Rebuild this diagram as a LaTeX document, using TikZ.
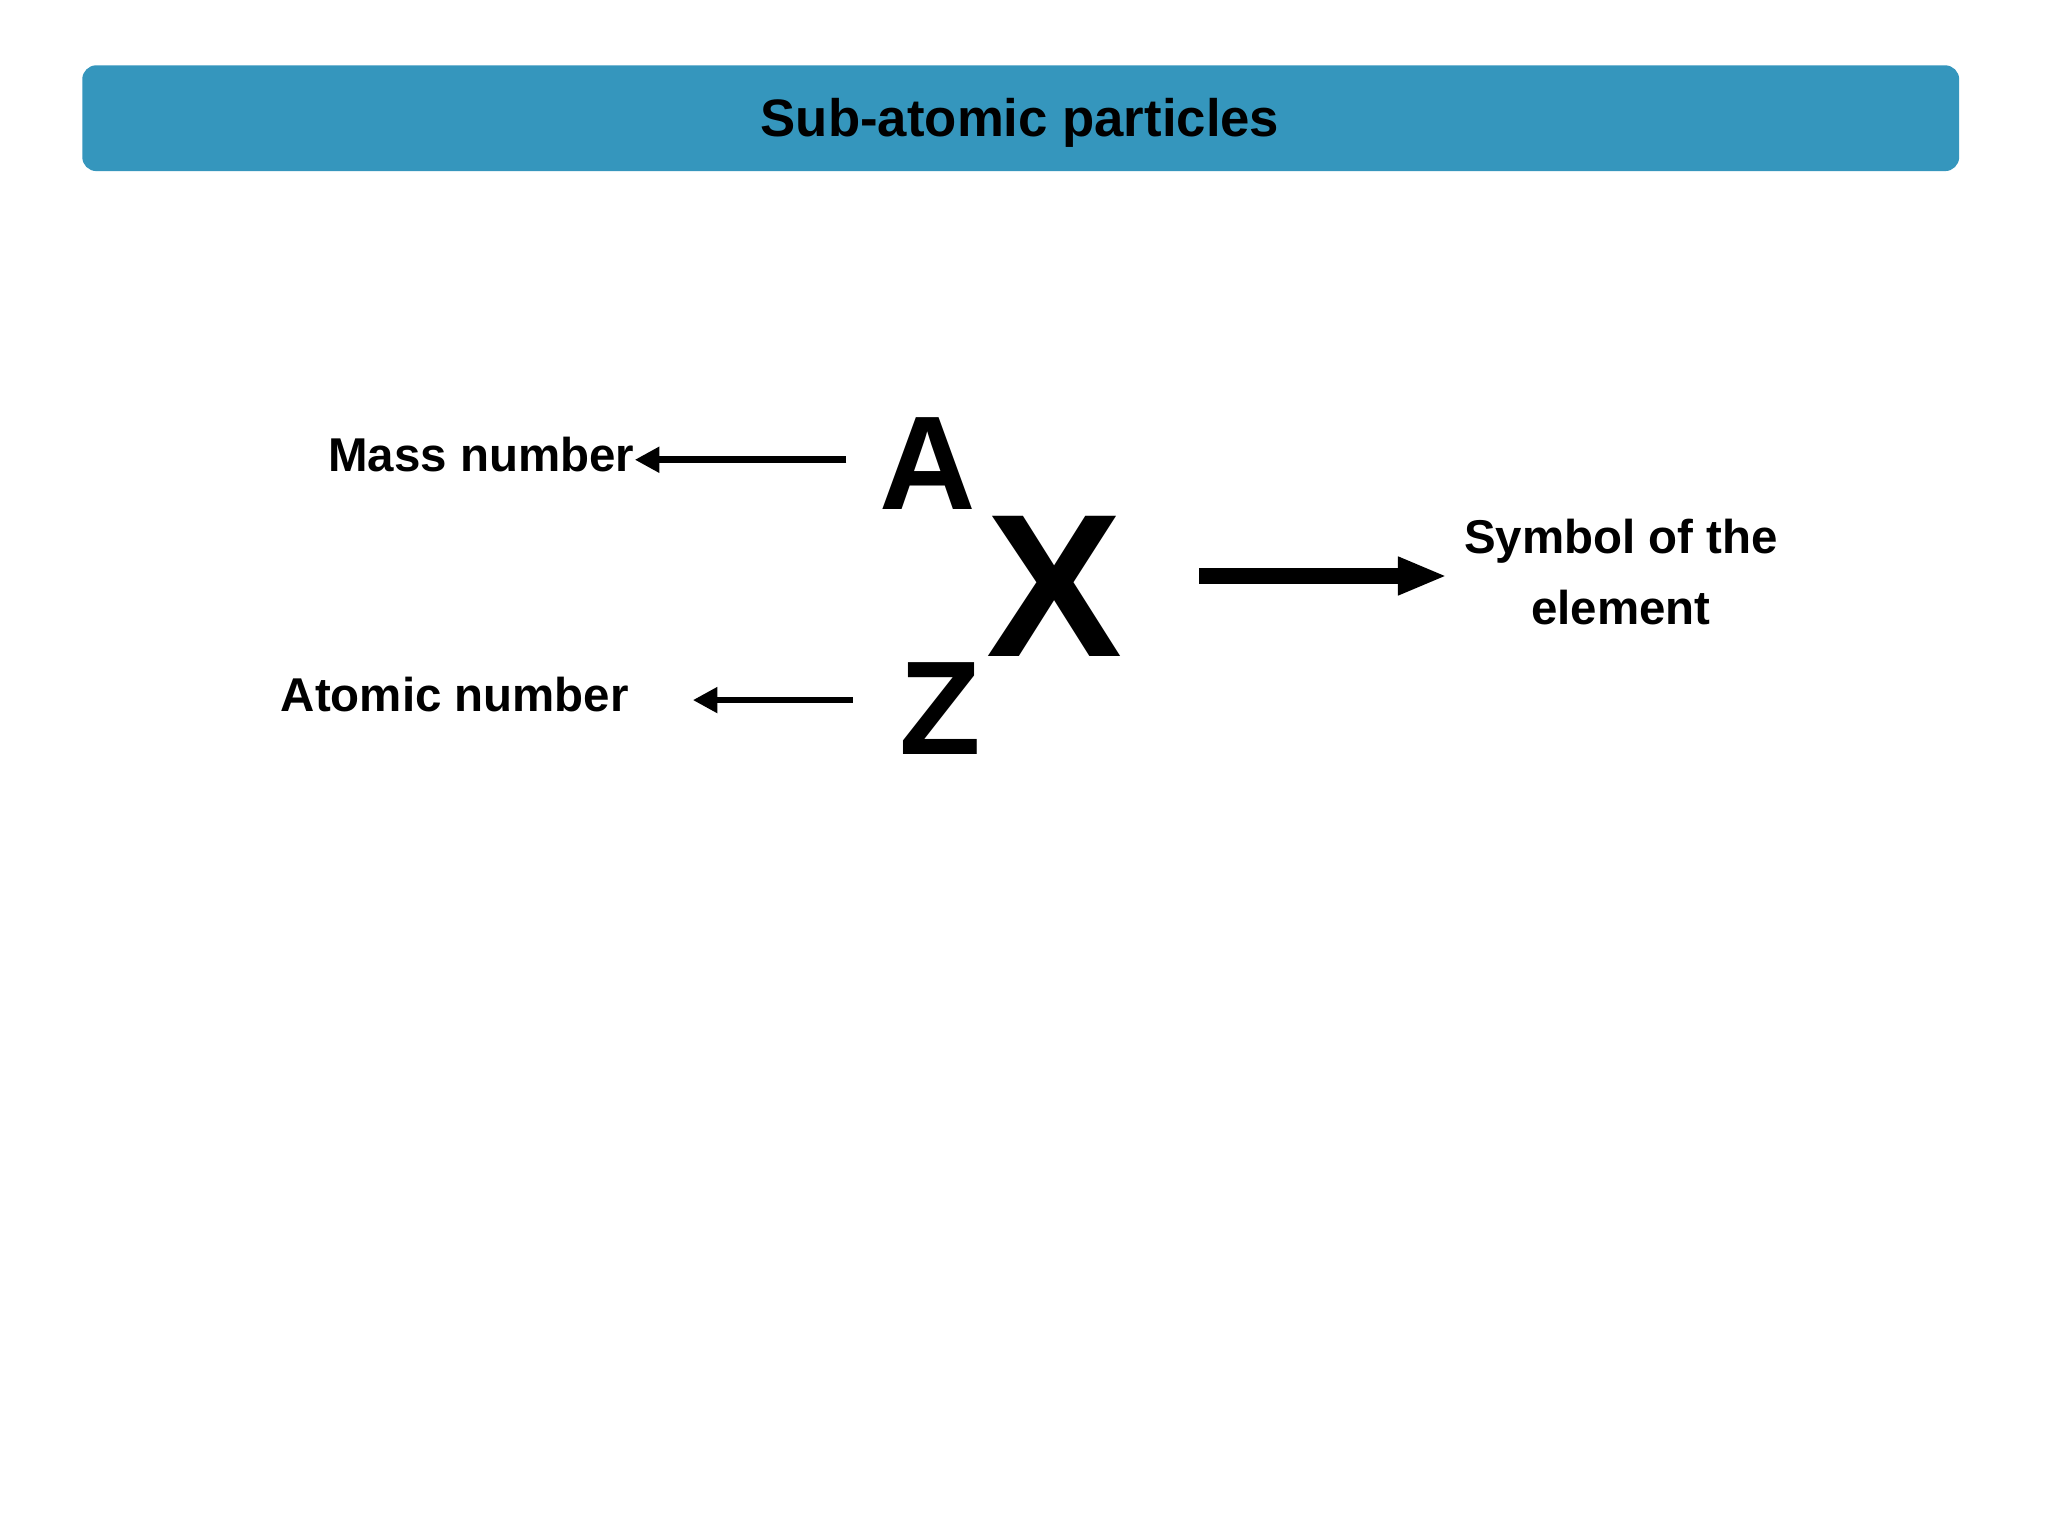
\documentclass[tikz,border=0pt]{standalone}
\usepackage{fontspec}
\setmainfont{Liberation Sans}
\usetikzlibrary{arrows.meta}
\begin{document}
\begin{tikzpicture}[x=0.013061cm,y=-0.013061cm,
  lbl/.style={font=\bfseries\fontsize{13.5}{16}\selectfont,inner sep=0pt},
  big/.style={font=\bfseries\fontsize{38}{40}\selectfont,inner sep=0pt},
  thin/.style={line width=1.9pt,-{Triangle[length=7pt,width=7pt]}},
  thick/.style={line width=4.4pt,-{Triangle[length=14pt,width=10pt]}}]
\useasboundingbox (0,0) rectangle (1568,1176);
\fill[white] (0,0) rectangle (1568,1176);
\fill[rounded corners=4pt,fill={rgb,255:red,53;green,150;blue,189}] (63,50) rectangle (1500,131);
\node[font=\bfseries\fontsize{15}{18}\selectfont] (title) at (781,94) {Sub-atomic particles};
\node[big,anchor=base] (A) at (710,390) {A};
\node[big,anchor=base,font=\bfseries\fontsize{58}{60}\selectfont] (X) at (807,503) {X};
\node[big,anchor=base] (Z) at (720,578) {Z};
\node[lbl,anchor=base east] (mass) at (486,361) {Mass number};
\node[lbl,anchor=base east] (atom) at (482,545) {Atomic number};
\node[lbl,align=center] (sym) at (1241,438) {Symbol of the\\[4pt]element};
\coordinate (m0) at (648,352);
\coordinate (a0) at (653,536);
\coordinate (s0) at (918,441);
\coordinate (s1) at (1108,441);
\draw[thin] (m0) -- (mass.east|-m0);
\draw[thin] (a0) -- ([xshift=18]atom.east|-a0);
\draw[thick] (s0) -- (s1);
\end{tikzpicture}
\end{document}
